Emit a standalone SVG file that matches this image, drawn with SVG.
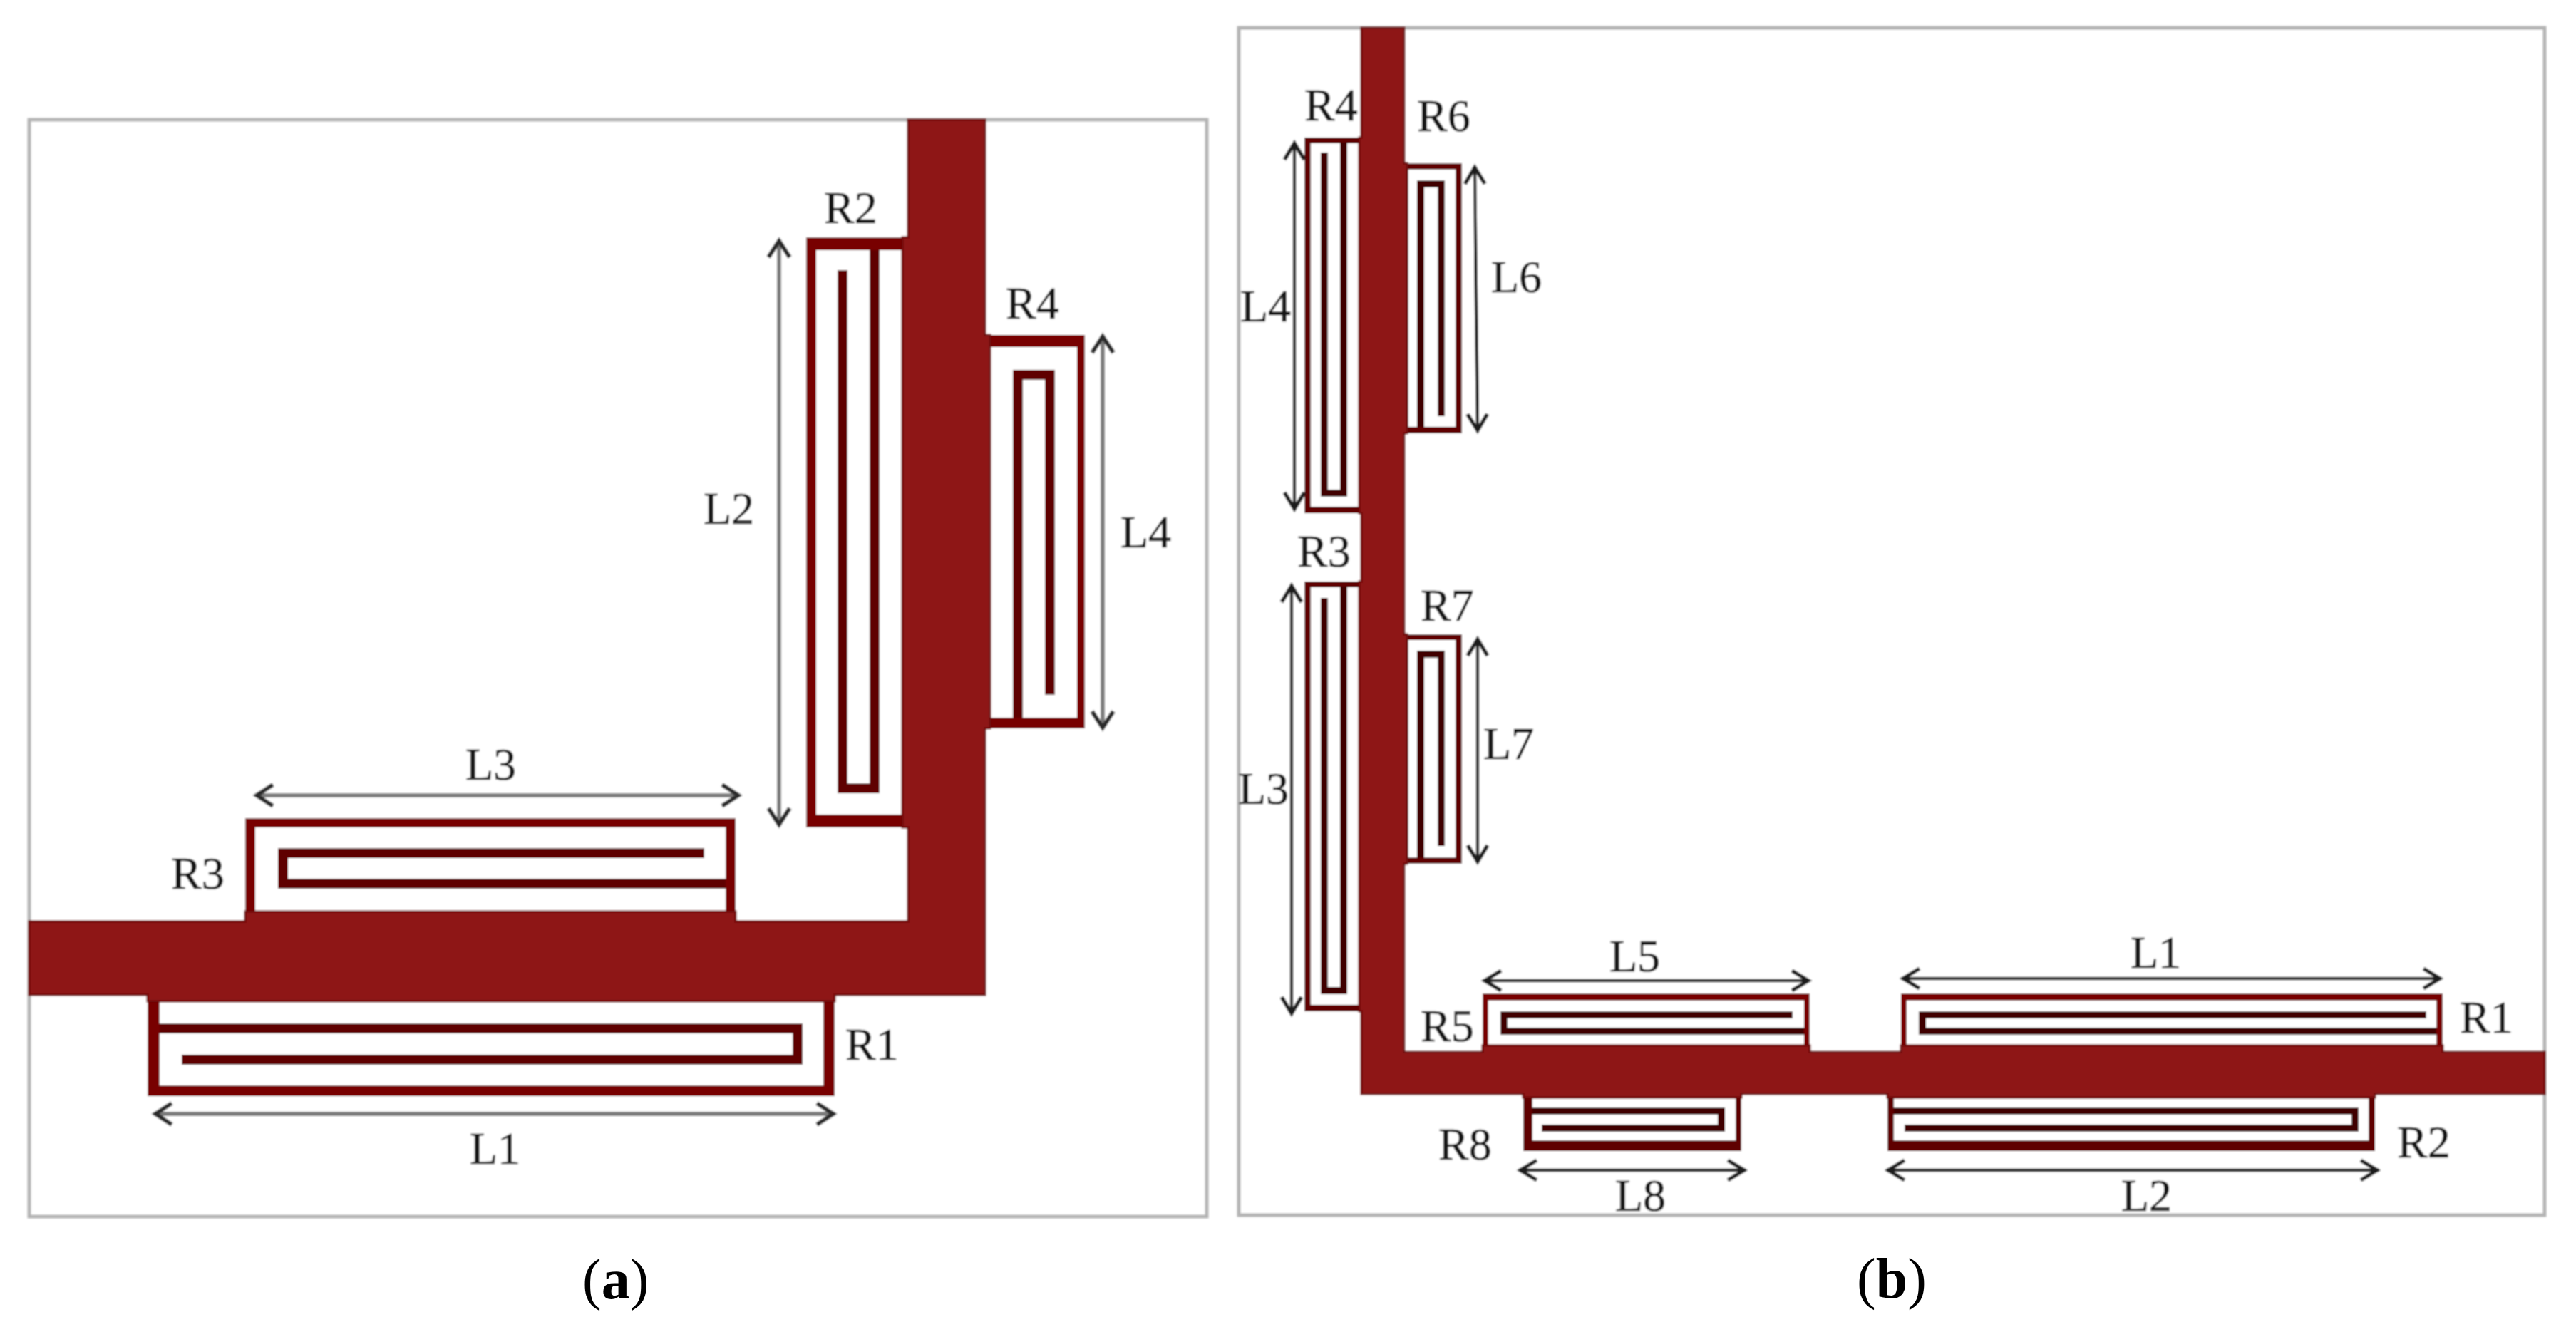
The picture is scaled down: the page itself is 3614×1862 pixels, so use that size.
<svg xmlns="http://www.w3.org/2000/svg" width="3614" height="1862" viewBox="0 0 3614 1862">
<style>
text{font-family:"Liberation Serif","Times New Roman",serif;font-size:64px;fill:#161616;stroke:#161616;stroke-width:.7}
.cap{font-size:80px;fill:#000;stroke:none}
.bold{font-weight:700}
.frame{fill:#fff;stroke:#b4b4b4;stroke-width:5}
.feed{fill:#8e1515;stroke:#6e0808;stroke-width:3}
.wall{fill:#780202}
.wb{fill:#5e0000}
.void{fill:#fff}
.ma{fill:none;stroke:#5f0000;stroke-width:14}
.mb{fill:none;stroke:#400000;stroke-width:10}
.dima{fill:none;stroke:#7c7c7c;stroke-width:6;marker-start:url(#va);marker-end:url(#va)}
.dimb{fill:none;stroke:#1c1c1c;stroke-width:4.5;marker-start:url(#vb);marker-end:url(#vb)}
</style>
<defs>
<filter id="soft" x="-2%" y="-2%" width="104%" height="104%"><feGaussianBlur stdDeviation="1"/></filter>
<marker id="va" markerUnits="userSpaceOnUse" markerWidth="44" markerHeight="44" viewBox="0 0 44 44" refX="34" refY="22" orient="auto-start-reverse"><path d="M9 7L32 22L9 37" fill="none" stroke="#2c2c2c" stroke-width="6"/></marker>
<marker id="vb" markerUnits="userSpaceOnUse" markerWidth="44" markerHeight="44" viewBox="0 0 44 44" refX="34" refY="22" orient="auto-start-reverse"><path d="M9 8L32 22L9 36" fill="none" stroke="#1c1c1c" stroke-width="5.5"/></marker>
</defs>
<rect width="3614" height="1862" fill="#fff"/>
<g id="panel-a" filter="url(#soft)">
<rect id="a-frame" class="frame" x="41" y="168" width="1652" height="1539"/>
<g id="a-R1"><rect class="wall" x="207" y="1394" width="964" height="144"/><rect class="void" x="224" y="1406" width="931" height="117"/><path class="ma" d="M224 1443H1119V1487H255"/><text x="1186" y="1487">R1</text></g>
<g id="a-R2"><rect class="wall" x="1131" y="333" width="145" height="828"/><rect class="void" x="1145" y="351" width="120" height="792"/><path class="ma" d="M1227 351V1106H1182V379"/><text x="1156" y="313">R2</text></g>
<g id="a-R3"><rect class="wall" x="344" y="1148" width="688" height="147"/><rect class="void" x="358" y="1161" width="660" height="117"/><path class="ma" d="M988 1197H397V1240H1018"/><text x="240" y="1247">R3</text></g>
<g id="a-R4"><rect class="wall" x="1380" y="470" width="142" height="552"/><rect class="void" x="1390" y="487" width="121" height="520"/><path class="ma" d="M1428 1007V526H1473V975"/><text x="1411" y="447">R4</text></g>
<path id="a-feed" class="feed" d="M41 1293H344V1279H1032V1293H1274V1161H1266V333H1274V168H1382V470H1389V1022H1382V1396H1171V1405H207V1396H41Z"/>
<g id="a-connectors">
<path class="dima" d="M216 1563H1171"/><text x="659" y="1633">L1</text>
<path class="dima" d="M1093 336V1159"/><text x="987" y="735">L2</text>
<path class="dima" d="M358 1116H1038"/><text x="653" y="1094">L3</text>
<path class="dima" d="M1547 470V1023"/><text x="1572" y="768">L4</text>
</g>
</g>
<g id="panel-b" filter="url(#soft)">
<rect id="b-frame" class="frame" x="1738" y="39" width="1832" height="1666"/>
<g id="b-R1"><rect class="wall" x="2667" y="1394" width="760" height="84"/><rect class="void" x="2675" y="1404" width="743" height="62"/><path class="mb" d="M3404 1424H2697V1447H3418"/><text x="3451" y="1449">R1</text></g>
<g id="b-R2"><rect class="wb" x="2648" y="1533" width="684" height="82"/><rect class="void" x="2657" y="1541" width="666" height="59"/><path class="mb" d="M2657 1559H3304V1583H2672"/><text x="3363" y="1624">R2</text></g>
<g id="b-R3"><rect class="wb" x="1830" y="816" width="82" height="603"/><rect class="void" x="1839" y="824" width="67" height="586"/><path class="mb" d="M1885 823V1390H1858V839"/><text x="1820" y="795">R3</text></g>
<g id="b-R4"><rect class="wb" x="1830" y="193" width="82" height="527"/><rect class="void" x="1839" y="201" width="67" height="510"/><path class="mb" d="M1885 200V692H1858V214"/><text x="1830" y="169">R4</text></g>
<g id="b-R5"><rect class="wall" x="2080" y="1394" width="459" height="84"/><rect class="void" x="2088" y="1404" width="443" height="62"/><path class="mb" d="M2515 1424H2110V1447H2531"/><text x="1993" y="1461">R5</text></g>
<g id="b-R6"><rect class="wb" x="1968" y="229" width="83" height="379"/><rect class="void" x="1976" y="238" width="66" height="361"/><path class="mb" d="M1993 599V258H2022V584"/><text x="1988" y="184">R6</text></g>
<g id="b-R7"><rect class="wb" x="1968" y="890" width="83" height="322"/><rect class="void" x="1976" y="898" width="66" height="305"/><path class="mb" d="M1993 1203V918H2022V1187"/><text x="1993" y="871">R7</text></g>
<g id="b-R8"><rect class="wb" x="2137" y="1533" width="306" height="82"/><rect class="void" x="2150" y="1541" width="285" height="59"/><path class="mb" d="M2150 1559H2415V1583H2163"/><text x="2018" y="1627">R8</text></g>
<path id="b-feed" class="feed" d="M1910 39H1970V229H1974V608H1970V890H1974V1212H1970V1476H2080V1467H2539V1476H2667V1467H3427V1476H3570V1535H3332V1540H2648V1535H2443V1540H2137V1535H1910V1419H1907V816H1910V720H1907V193H1910Z"/>
<g id="b-connectors">
<path class="dimb" d="M2668 1373H3425"/><text x="2989" y="1358">L1</text>
<path class="dimb" d="M2647 1642H3337"/><text x="2976" y="1699">L2</text>
<path class="dimb" d="M1812 820V1424"/><text x="1737" y="1128">L3</text>
<path class="dimb" d="M1816 199V716"/><text x="1740" y="451">L4</text>
<path class="dimb" d="M2081 1376H2539"/><text x="2258" y="1363">L5</text>
<path class="dimb" d="M2069 233L2073 606"/><text x="2092" y="410">L6</text>
<path class="dimb" d="M2073 895V1211"/><text x="2081" y="1065">L7</text>
<path class="dimb" d="M2131 1642H2449"/><text x="2266" y="1699">L8</text>
</g>
</g>
<text class="cap" x="817" y="1822">(<tspan class="bold">a</tspan>)</text>
<text class="cap" x="2605" y="1821">(<tspan class="bold">b</tspan>)</text>
</svg>
